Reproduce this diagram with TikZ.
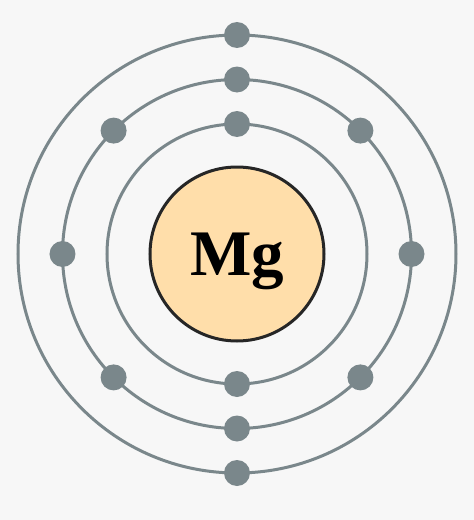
\documentclass[tikz,border=0pt]{standalone}
\usepackage{fontspec}
\setmainfont{Liberation Serif}
\definecolor{shellgray}{HTML}{7A878B}
\definecolor{nucleusfill}{HTML}{FFDEAA}
\definecolor{bggray}{HTML}{F7F7F7}

\begin{document}
\begin{tikzpicture}[x=1pt, y=1pt,
    orbit/.style={draw=shellgray, line width=3pt},
    electron/.style={circle, fill=shellgray, minimum size=26pt, inner sep=0pt},
    nucleus/.style={circle, draw=black!85, line width=3pt, fill=nucleusfill,
        minimum size=174pt, inner sep=0pt, text depth=0pt,
        font=\bfseries\fontsize{65}{65}\selectfont}]

    \fill[bggray] (-237, -266) rectangle (237, 254);
    \useasboundingbox (-237, -266) rectangle (237, 254);
    \coordinate (O) at (0, 0);
    % shells
    \draw[orbit] (O) circle (130);
    \draw[orbit] (O) circle (174.5);
    \draw[orbit] (O) circle (219);
    % nucleus
    \node[nucleus] (Mg) at (O) {Mg};
    % electrons: 2, 8, 2
    \foreach \a [count=\i] in {90, 270}
        \node[electron] (e1\i) at (\a:130) {};
    \foreach \a [count=\i] in {0, 45, ..., 315}
        \node[electron] (e2\i) at (\a:174.5) {};
    \foreach \a [count=\i] in {90, 270}
        \node[electron] (e3\i) at (\a:219) {};
  \end{tikzpicture}
\end{document}
